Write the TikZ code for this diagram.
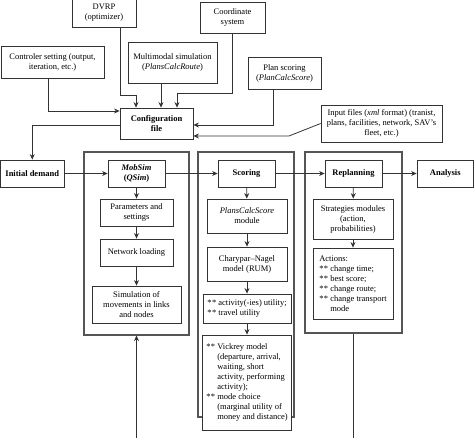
\documentclass[tikz,border=0pt]{standalone}
\usepackage{fontspec}
\setmainfont{Liberation Serif}
\usetikzlibrary{arrows.meta}
\definecolor{ln}{HTML}{333333}
\definecolor{cn}{HTML}{555555}
\newcommand{\bul}{*\kern0.4pt*\ }
\newcommand{\ind}{\phantom{\bul}}
\begin{document}
\begin{tikzpicture}[x=1pt,y=-1pt,
  box/.style={draw=ln,line width=0.8pt,fill=white,inner sep=2pt,align=center,
    font=\fontsize{8.5}{10}\selectfont},
  lbox/.style={box,align=left,inner sep=4pt},
  cont/.style={draw=cn,line width=1.1pt,inner sep=0pt},
  arr/.style={draw=ln,line width=0.8pt,-{Stealth[length=5.5pt,width=5pt]}},
  ln/.style={draw=ln,line width=0.8pt}]
\useasboundingbox (0,0) rectangle (474,438);
% top boxes
\node[box,minimum width=64pt,minimum height=28pt] (dvrp) at (104,13) {DVRP\\(optimizer)};
\node[box,minimum width=65pt,minimum height=31pt] (coord) at (232.5,17.5) {Coordinate\\system};
\node[box,minimum width=103pt,minimum height=32pt] (ctrl) at (52.5,62) {Controler setting (output,\\iteration, etc.)};
\node[box,minimum width=89pt,minimum height=41pt] (multi) at (172.5,62.5) {Multimodal simulation\\(\textit{PlansCalcRoute})};
\node[box,minimum width=73pt,minimum height=32pt] (plan) at (284.5,73) {Plan scoring\\(\textit{PlanCalcScore})};
\node[box,minimum width=73pt,minimum height=31pt] (cfg) at (156.5,123.5) {\textbf{Configuration}\\\textbf{file}};
\node[box,minimum width=121pt,minimum height=37pt] (input) at (381.5,123.5) {Input files (\textit{xml} format) (tranist,\\plans, facilities, network, SAV's\\fleet, etc.)};
% containers
\node[cont,minimum width=105pt,minimum height=183pt] (msc) at (136.5,243.5) {};
\node[cont,minimum width=96pt,minimum height=265pt] (sc) at (246,284.5) {};
\node[cont,minimum width=97pt,minimum height=181pt] (rpc) at (353.5,242.5) {};
% main row
\node[box,minimum width=63.5pt,minimum height=27pt] (init) at (32.25,173.5) {\textbf{Initial demand}};
\node[box,minimum width=57pt,minimum height=27pt] (mob) at (136.5,173.5) {\textbf{\textit{MobSim}}\\\textbf{(\textit{QSim})}};
\node[box,minimum width=57pt,minimum height=27pt] (scor) at (246.5,173.5) {\textbf{Scoring}};
\node[box,minimum width=57pt,minimum height=27pt] (rep) at (353.5,173.5) {\textbf{Replanning}};
\node[box,minimum width=56.5pt,minimum height=27pt] (ana) at (445.25,173.5) {\textbf{Analysis}};
% mobsim column
\node[box,minimum width=73pt,minimum height=27pt] (par) at (136.5,212.5) {Parameters and\\settings};
\node[box,minimum width=73pt,minimum height=27pt] (net) at (136.5,252.5) {Network loading};
\node[box,minimum width=89pt,minimum height=37pt] (sim) at (136.5,304.5) {Simulation of\\movements in links\\and nodes};
% scoring column
\node[box,minimum width=80pt,minimum height=34pt] (pcs) at (247,216) {\textit{PlansCalcScore}\\module};
\node[box,minimum width=80pt,minimum height=34pt] (chn) at (247,264) {Charypar--Nagel\\model (RUM)};
\node[lbox,minimum width=88pt,minimum height=29pt] (act) at (247,308.5) {\bul activity(-ies) utility;\\\bul travel utility};
\node[lbox,minimum width=88pt,minimum height=95pt] (vic) at (247,382.5) {\bul Vickrey model\\\ind(departure, arrival,\\\ind waiting, short\\\ind activity, performing\\\ind activity);\\\bul mode choice\\\ind(marginal utility of\\\ind money and distance)};
% replanning column
\node[box,minimum width=80pt,minimum height=40pt] (str) at (353,219) {Strategies modules\\(action,\\probabilities)};
\node[lbox,minimum width=80pt,minimum height=71pt] (acn) at (353,283.5) {Actions:\\\bul change time;\\\bul best score;\\\bul change route;\\\bul change transport\\\ind mode};
% connectors to configuration
\draw[arr] ([xshift=16pt]dvrp.south) -- ++(0,68) -| ([xshift=-20.5pt]cfg.north);
\draw[arr] ([xshift=-11.5pt]multi.south) -- ([xshift=4.5pt]cfg.north);
\draw[arr] (coord.south) -- ++(0,60) -| ([xshift=20.5pt]cfg.north);
\draw[arr] ([xshift=-4.5pt]ctrl.south) |- ([yshift=12.5pt]cfg.west);
\draw[arr] ([xshift=-11.5pt]plan.south) |- ([yshift=-1.5pt]cfg.east);
\coordinate (bend) at (289,136);
\draw[arr] (input.west) -- (bend) -- ([yshift=-12.5pt]cfg.east);
\draw[arr] ([yshift=-1.5pt]cfg.west) -| (init.north);
% main flow
\draw[arr] (init) -- (mob);
\draw[arr] (mob) -- (scor);
\draw[arr] (scor) -- (rep);
\draw[arr] (rep) -- (ana);
% columns
\draw[arr] (mob) -- (par);
\draw[arr] (par) -- (net);
\draw[arr] (net) -- (sim);
\draw[arr] (scor) -- (pcs);
\draw[arr] (pcs) -- (chn);
\draw[arr] (chn) -- (act);
\draw[arr] (act) -- (vic);
\draw[arr] (rep) -- (str);
\draw[arr] (str) -- (acn);
% loop at bottom
\coordinate (b1) at (136.5,442);
\coordinate (b2) at (353.5,442);
\draw[arr] (b1) -- (msc.south);
\draw[ln] (rpc.south) -- (b2);
\end{tikzpicture}
\end{document}
